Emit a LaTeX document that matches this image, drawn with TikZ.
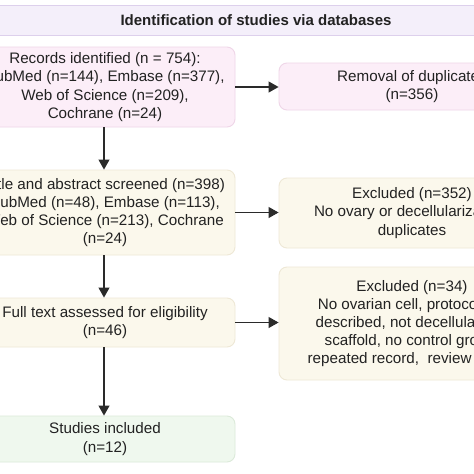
\documentclass[tikz,border=0pt]{standalone}
\usepackage{fontspec}
\setmainfont{Liberation Sans}
\usetikzlibrary{arrows.meta}
\definecolor{hdrfill}{HTML}{F4EFFA}
\definecolor{hdrline}{HTML}{DDD0EC}
\definecolor{pinkfill}{HTML}{FCEEF8}
\definecolor{pinkline}{HTML}{EFD6E8}
\definecolor{creamfill}{HTML}{FBF8EC}
\definecolor{creamline}{HTML}{EEE8D6}
\definecolor{greenfill}{HTML}{EFF8EE}
\definecolor{greenline}{HTML}{DCEADA}
\definecolor{txt}{HTML}{222222}
\definecolor{arr}{HTML}{2A2A2A}
\tikzset{
  box/.style={rectangle, rounded corners=8pt, line width=0.9pt, align=center,
    inner sep=0pt, text=txt, font=\fontsize{15.2}{18.2}\selectfont},
  pinkbox/.style={box, fill=pinkfill, draw=pinkline},
  creambox/.style={box, fill=creamfill, draw=creamline},
  greenbox/.style={box, fill=greenfill, draw=greenline},
  hdr/.style={rectangle, fill=hdrfill, draw=hdrline, line width=0.9pt, text=txt,
    font=\fontsize{15}{18}\selectfont\bfseries, inner sep=0pt},
  link/.style={draw=arr, line width=1.1pt, -{Triangle[length=10pt,width=11pt]}}
}
\begin{document}
\begin{tikzpicture}[x=1pt,y=-1pt]
\useasboundingbox (0,0) rectangle (474,474);
\clip (0,0) rectangle (474,474);
\fill[white] (0,0) rectangle (474,474);
\node[hdr, minimum width=540pt, minimum height=30pt] (h) at (256,20) {Identification of studies via databases};
\node[pinkbox, minimum width=260pt, minimum height=80pt] (b1) at (105,87)
  {Records identified (n = 754):\\PubMed (n=144), Embase (n=377),\\Web of Science (n=209),\\Cochrane (n=24)};
\node[pinkbox, minimum width=266pt, minimum height=47pt] (b2) at (412,86.5)
  {Removal of duplicates\\(n=356)};
\node[creambox, minimum width=260pt, minimum height=85pt] (b3) at (105,212.5)
  {Title and abstract screened (n=398)\\PubMed (n=48), Embase (n=113),\\Web of Science (n=213), Cochrane\\(n=24)};
\node[creambox, minimum width=266pt, minimum height=70pt] (b4) at (412,213)
  {Excluded (n=352)\\No ovary or decellularization,\\duplicates};
\node[creambox, minimum width=260pt, minimum height=49pt] (b5) at (105,322.5)
  {Full text assessed for eligibility\\(n=46)};
\node[creambox, minimum width=266pt, minimum height=113pt] (b6) at (412,323.5)
  {Excluded (n=34)\\No ovarian cell, protocol not\\described, not decellularized\\scaffold, no control group,\\repeated record,\ \ review article};
\node[greenbox, minimum width=260pt, minimum height=46pt] (b7) at (105,439)
  {Studies included\\(n=12)};
\draw[link] (b1.south -| 104,0) -- (b3.north -| 104,0);
\draw[link] (b3.south -| 104,0) -- (b5.north -| 104,0);
\draw[link] (b5.south -| 104,0) -- (b7.north -| 104,0);
\draw[link] (b1.east) -- (b1.east -| b2.west);
\draw[link] (b3.east) -- (b3.east -| b4.west);
\draw[link] (b5.east) -- (b5.east -| b6.west);
\end{tikzpicture}
\end{document}
